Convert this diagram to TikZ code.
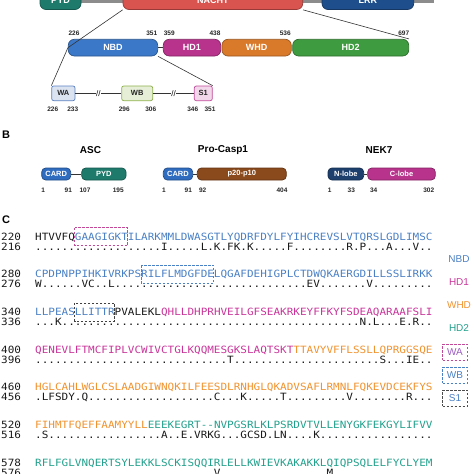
\documentclass[tikz,border=0pt]{standalone}
\usepackage{fontspec}
\setmainfont{Liberation Sans}
\newfontfamily\seqfont[FakeStretch=1.1]{DejaVu Sans Mono}
\usetikzlibrary{positioning}

\definecolor{pydcol}{HTML}{1E7B6C}
\definecolor{nachtcol}{HTML}{D9534F}
\definecolor{lrrcol}{HTML}{1F4E8C}
\definecolor{nbdcol}{HTML}{3B78C8}
\definecolor{hdonecol}{HTML}{B8338C}
\definecolor{whdcol}{HTML}{D97A2B}
\definecolor{hdtwocol}{HTML}{3F9B3F}
\definecolor{cardcol}{HTML}{2F6CBF}
\definecolor{p20col}{HTML}{8A4A1C}
\definecolor{nlobecol}{HTML}{1D3F6E}
\definecolor{wacol}{HTML}{5A80C0}
\definecolor{wbcol}{HTML}{8DB04A}
\definecolor{sonecol}{HTML}{C04A99}
% sequence colours
\definecolor{tnbd}{HTML}{4A80C4}
\definecolor{thdone}{HTML}{C8359A}
\definecolor{twhd}{HTML}{F0922E}
\definecolor{thdtwo}{HTML}{22A08C}
\definecolor{twa}{HTML}{9A5CC0}

% a run of n identity dots
\newcommand\dotrun[1]{\ifnum#1>0 .\dotrun{\numexpr#1-1\relax}\fi}

\tikzset{
  dom/.style={draw=#1!70!black, fill=#1, rounded corners=6pt, line width=.7pt,
    minimum height=16.7pt, inner sep=0pt, text=white,
    font=\bfseries\fontsize{9}{9}\selectfont},
  bdom/.style={dom=#1, rounded corners=4pt, minimum height=12pt,
    font=\bfseries\fontsize{7.5}{7.5}\selectfont},
  motif/.style={draw=#1, fill=#1!22, rounded corners=2pt, line width=.7pt,
    minimum height=14.7pt, inner sep=0pt, text=black!85,
    font=\bfseries\fontsize{7.5}{7.5}\selectfont},
  num/.style={inner sep=0pt, text=black!85, font=\bfseries\fontsize{6.5}{6.5}\selectfont},
  head/.style={inner sep=0pt, font=\bfseries\fontsize{10}{10}\selectfont},
  seq/.style={inner sep=0pt, anchor=base west, text=black!90,
    font=\seqfont\fontsize{10}{10}\selectfont},
  conn/.style={draw=black!80, line width=.6pt},
  brk/.style={fill=white, inner sep=.5pt, font=\fontsize{8}{8}\selectfont},
  dbox/.style={draw=#1, line width=.8pt, dash pattern=on 2.5pt off 1.5pt},
  leg/.style={inner sep=0pt, font=\fontsize{10}{10}\selectfont},
  legbox/.style={leg, draw=#1, line width=.8pt, dash pattern=on 2.5pt off 1.5pt,
    minimum width=25pt, minimum height=16pt},
}

\begin{document}
\begin{tikzpicture}[x=1pt, y=-1pt]
\useasboundingbox (0,0) rectangle (474,474);
\clip (0,0) rectangle (474,474);

% A: NLRP3 domains
\fill[black!45] (60,-3) rectangle (434,3.3);
\node[dom=pydcol, minimum width=41pt, minimum height=18pt] (pydtop) at (60.5,0.5) {PYD};
\node[dom=nachtcol, minimum width=179.7pt, minimum height=18pt] (nacht) at (212.85,0.5) {NACHT};
\node[dom=lrrcol, minimum width=91.7pt, minimum height=18pt] (lrr) at (367.85,0.5) {LRR};

\node[dom=nbdcol, minimum width=89.4pt] (nbd) at (113,47.65) {NBD};
\node[dom=hdonecol, minimum width=57.4pt] (hdone) at (192,47.65) {HD1};
\node[dom=whdcol, minimum width=69.3pt] (whd) at (256.65,47.65) {WHD};
\node[dom=hdtwocol, minimum width=116pt] (hdtwo) at (350.7,47.65) {HD2};
\foreach \x/\t in {74/226,151.7/351,169.3/359,215/438,285.3/536,403.7/697}
  \node[num] (a\t) at (\x,33.3) {\t};

\draw[conn] (nbd) -- (hdone);
\draw[conn] (nacht.south west) -- (nbd.west);
\draw[conn] (nacht.south east) -- (hdtwo.north east);

\node[motif=wacol, minimum width=23.3pt] (wa) at (63.35,93.35) {WA};
\node[motif=wbcol, minimum width=31pt] (wb) at (137.2,93.35) {WB};
\node[motif=sonecol, minimum width=18pt] (sone) at (203.3,93.35) {S1};
\draw[conn] (wa) -- node[brk] {//} (wb);
\draw[conn] (wb) -- node[brk] {//} (sone);
\draw[conn] (nbd.west) -- (wa.north west);
\draw[conn] (nbd.south east) -- (sone.north east);
\foreach \x/\t in {52.7/226,72.7/233,124.3/296,150.7/306,192.7/346,210/351}
  \node[num] (b\t) at (\x,109.3) {\t};

% B: partners
\node[head, anchor=west, font=\bfseries\fontsize{11}{11}\selectfont] (labB) at (2,135) {B};
\node[head] (asc) at (90.5,150) {ASC};
\node[head] (casp) at (223,150) {Pro-Casp1};
\node[head] (nek) at (379,150) {NEK7};

\node[bdom=cardcol, minimum width=29pt] (asccard) at (56.2,174) {CARD};
\node[bdom=pydcol, minimum width=44.3pt] (ascpyd) at (103.85,174) {PYD};
\node[bdom=cardcol, minimum width=29.4pt] (caspcard) at (178,174) {CARD};
\node[bdom=p20col, minimum width=89pt] (p20) at (241.8,174) {p20-p10};
\node[bdom=nlobecol, minimum width=35.7pt] (nlobe) at (345.85,174) {N-lobe};
\node[bdom=hdonecol, minimum width=67.6pt] (clobe) at (401.5,174) {C-lobe};
\draw[conn] (asccard) -- (ascpyd);
\draw[conn] (caspcard) -- (p20);
\draw[conn] (nlobe) -- (clobe);
\foreach \x/\t [count=\i] in {43.3/1,68.3/91,85/107,118.3/195,164/1,188.3/91,202.7/92,282/404,329.7/1,351.3/33,373.7/34,428.7/302}
  \node[num] (c\i) at (\x,190) {\t};

% C: alignment
\node[head, anchor=west, font=\bfseries\fontsize{11}{11}\selectfont] (labC) at (2,220) {C};

\node[seq] (n220) at (1,240) {220};
\node[seq] (s220) at (35,240) {HTVVFQ\textcolor{tnbd}{GAAGIGKTILARKMMLDWASGTLYQDRFDYLFYIHCREVSLVTQRSLGDLIMSC}};
\node[seq] (n216) at (1,250) {216};
\node[seq] (s216) at (35,250) {\dotrun{19}I\dotrun{5}L.K.FK.K\dotrun{5}F\dotrun{8}R.P...A...V..};

\node[seq] (n280) at (1,277.7) {280};
\node[seq] (s280) at (35,277.7) {\textcolor{tnbd}{CPDPNPPIHKIVRKPSRILFLMDGFDELQGAFDEHIGPLCTDWQKAERGDILLSSLIRKK}};
\node[seq] (n276) at (1,287.7) {276};
\node[seq] (s276) at (35,287.7) {W\dotrun{6}VC..L\dotrun{29}EV\dotrun{7}V\dotrun{9}};

\node[seq] (n340) at (1,315.4) {340};
\node[seq] (s340) at (35,315.4) {\textcolor{tnbd}{LLPEASLLITTR}PVALEKL\textcolor{thdone}{QHLLDHPRHVEILGFSEAKRKEYFFKYFSDEAQARAAFSLI}};
\node[seq] (n336) at (1,325.4) {336};
\node[seq] (s336) at (35,325.4) {...K\dotrun{44}.N.L...E.R..};

\node[seq] (n400) at (1,353.1) {400};
\node[seq] (s400) at (35,353.1) {\textcolor{thdone}{QENEVLFTMCFIPLVCWIVCTGLKQQMESGKSLAQTSKT}\textcolor{twhd}{TTAVYVFFLSSLLQPRGGSQE}};
\node[seq] (n396) at (1,363.1) {396};
\node[seq] (s396) at (35,363.1) {\dotrun{29}T\dotrun{22}S...IE..};

\node[seq] (n460) at (1,390.8) {460};
\node[seq] (s460) at (35,390.8) {\textcolor{twhd}{HGLCAHLWGLCSLAADGIWNQKILFEESDLRNHGLQKADVSAFLRMNLFQKEVDCEKFYS}};
\node[seq] (n456) at (1,400.8) {456};
\node[seq] (s456) at (35,400.8) {.LFSDY.Q\dotrun{19}C...K\dotrun{5}T\dotrun{9}V\dotrun{8}R...};

\node[seq] (n520) at (1,428.5) {520};
\node[seq] (s520) at (35,428.5) {\textcolor{twhd}{FIHMTFQEFFAAMYYLL}\textcolor{thdtwo}{EEEKEGRT-{}-NVPGSRLKLPSRDVTVLLENYGKFEKGYLIFVV}};
\node[seq] (n516) at (1,438.5) {516};
\node[seq] (s516) at (35,438.5) {.S\dotrun{17}A..E.VRKG...GCSD.LN....K\dotrun{17}};

\node[seq] (n578) at (1,466.2) {578};
\node[seq] (s578) at (35,466.2) {\textcolor{thdtwo}{RFLFGLVNQERTSYLEKKLSCKISQQIRLELLKWIEVKAKAKKLQIQPSQLELFYCLYEM}};
\node[seq] (n576) at (1,476.2) {576};
\node[seq] (s576) at (35,476.2) {\dotrun{27}V\dotrun{16}M\dotrun{15}};

% motif frames
\draw[dbox=sonecol] (74.7,227.5) rectangle (127.7,245.5);
\draw[dbox=tnbd] (140.9,265.2) rectangle (213.7,283.2);
\draw[dbox=black!75] (74.7,302.9) rectangle (114.4,320.9);

% legend
\node[leg, text=tnbd] (lnbd) at (459,259) {NBD};
\node[leg, text=thdone] (lhdone) at (459,281.9) {HD1};
\node[leg, text=twhd] (lwhd) at (459,304.8) {WHD};
\node[leg, text=thdtwo] (lhdtwo) at (459,327.7) {HD2};
\node[legbox=sonecol, text=twa] (lwa) at (455,352) {WA};
\node[legbox=tnbd, text=tnbd] (lwb) at (455,375) {WB};
\node[legbox=black!70, text=tnbd] (lsone) at (455,398) {S1};
\end{tikzpicture}
\end{document}
